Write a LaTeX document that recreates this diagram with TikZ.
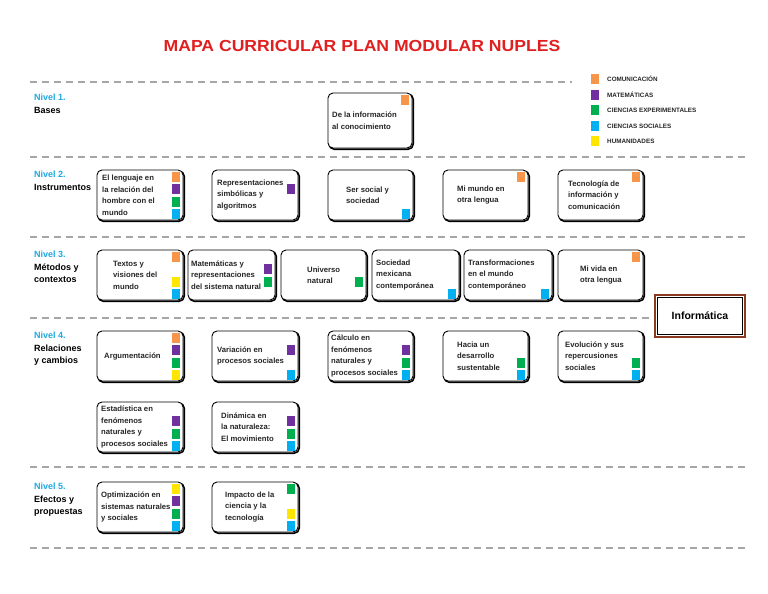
\documentclass[tikz,border=0pt]{standalone}
\usepackage{fontspec}
\setmainfont{Liberation Sans}
\definecolor{cO}{HTML}{F7954A}
\definecolor{cP}{HTML}{7030A0}
\definecolor{cG}{HTML}{00B050}
\definecolor{cB}{HTML}{00B0F0}
\definecolor{cY}{HTML}{FFE600}
\definecolor{tred}{HTML}{E02020}
\definecolor{nblue}{HTML}{1CA8E0}
\definecolor{ibrown}{HTML}{8A3A20}
\begin{document}
\begin{tikzpicture}[x=1pt,y=-1pt,
  dashln/.style={gray!70,line width=1.3pt,dash pattern=on 7pt off 5pt},
  box/.style={draw=black,line width=0.9pt,rounded corners=5pt,fill=white},
  shad/.style={draw=black,line width=1.6pt,rounded corners=5pt},
  txt/.style={anchor=west,align=left,font=\fontsize{7.7}{11.5}\selectfont\bfseries,text=black!85,inner sep=0pt},
  sq/.style={minimum width=8pt,minimum height=10pt,inner sep=0pt},
  niv/.style={anchor=north west,align=left,inner sep=0pt,font=\fontsize{9}{12.5}\selectfont\bfseries},
  leg/.style={anchor=west,inner sep=0pt,font=\fontsize{6.3}{7}\selectfont\bfseries,text=black!85}]
\useasboundingbox (0,0) rectangle (768,594);
\newcommand\bx[7]{%
  \draw[shad] (#2+1.2,#3+1.2) rectangle (#4+1.2,#5+1.2);
  \draw[box] (#2,#3) rectangle (#4,#5);
  \node[txt] (#1) at (#6,{(#3+#5)/2}) {#7};}
\newcommand\sqs[3]{%
  \foreach \s/\c in {#3} {\node[sq,fill=\c] at (#1-7,{#2+7+(\s-1)*12.3}) {};}}
% title
\node[text=tred,font=\fontsize{16}{16}\selectfont\bfseries,xscale=1.1] (title) at (362,46) {MAPA CURRICULAR PLAN MODULAR NUPLES};
% dashed lines
\foreach \y/\xe [count=\i] in {82/572,157/745,237/745,318/650,467/745,548/745}{
  \coordinate (dA\i) at (30,\y); \coordinate (dB\i) at (\xe,\y);
  \draw[dashln] (dA\i) -- (dB\i);}
% legend
\foreach \y/\c/\t [count=\k] in {79/cO/COMUNICACIÓN,95/cP/MATEMÁTICAS,110/cG/CIENCIAS EXPERIMENTALES,126/cB/CIENCIAS SOCIALES,141/cY/HUMANIDADES}{
  \node[sq,fill=\c] (lg\k) at (595,\y) {};
  \node[leg] (lt\k) at (607,\y) {\t};}
% levels
\node[niv] (n1) at (34,94) {\textcolor{nblue}{Nivel 1.}\\Bases};
\node[niv] (n2) at (34,171) {\textcolor{nblue}{Nivel 2.}\\Instrumentos};
\node[niv] (n3) at (34,251) {\textcolor{nblue}{Nivel 3.}\\Métodos y\\contextos};
\node[niv] (n4) at (34,332) {\textcolor{nblue}{Nivel 4.}\\Relaciones\\y cambios};
\node[niv] (n5) at (34,483) {\textcolor{nblue}{Nivel 5.}\\Efectos y\\propuestas};
% level 1
\bx{b11}{328}{93}{412}{148}{332}{De la información\\al conocimiento}\sqs{412}{93}{1/cO}
% level 2
\bx{b21}{97}{170}{183}{220}{102}{El lenguaje en\\la relación del\\hombre con el\\mundo}\sqs{183}{170}{1/cO,2/cP,3/cG,4/cB}
\bx{b22}{212}{170}{298}{220}{217}{Representaciones\\simbólicas y\\algoritmos}\sqs{298}{170}{2/cP}
\bx{b23}{328}{170}{413}{220}{346}{Ser social y\\sociedad}\sqs{413}{170}{4/cB}
\bx{b24}{443}{170}{528}{220}{457}{Mi mundo en\\otra lengua}\sqs{528}{170}{1/cO}
\bx{b25}{558}{170}{643}{220}{568}{Tecnología de\\información y\\comunicación}\sqs{643}{170}{1/cO}
% level 3
\bx{b31}{97}{250}{183}{300}{113}{Textos y\\visiones del\\mundo}\sqs{183}{250}{1/cO,3/cY,4/cB}
\bx{b32}{188}{250}{275}{300}{191}{Matemáticas y\\representaciones\\del sistema natural}\sqs{275}{250}{2/cP,3/cG}
\bx{b33}{281}{250}{366}{300}{307}{Universo\\natural}\sqs{366}{250}{3/cG}
\bx{b34}{372}{250}{459}{300}{376}{Sociedad\\mexicana\\contemporánea}\sqs{459}{250}{4/cB}
\bx{b35}{464}{250}{552}{300}{468}{Transformaciones\\en el mundo\\contemporáneo}\sqs{552}{250}{4/cB}
\bx{b36}{558}{250}{643}{300}{580}{Mi vida en\\otra lengua}\sqs{643}{250}{1/cO}
% Informatica
\draw[draw=ibrown,line width=1.6pt] (655,295) rectangle (745,337);
\draw[draw=black,line width=0.6pt] (657.5,297.5) rectangle (742.5,334.5);
\node[font=\fontsize{10.5}{12}\selectfont\bfseries] (inf) at (700,316) {Informática};
% level 4
\bx{b41}{97}{331}{183}{381}{104}{Argumentación}\sqs{183}{331}{1/cO,2/cP,3/cG,4/cY}
\bx{b42}{212}{331}{298}{381}{217}{Variación en\\procesos sociales}\sqs{298}{331}{2/cP,4/cB}
\bx{b43}{328}{331}{413}{381}{331}{Cálculo en\\fenómenos\\naturales y\\procesos sociales}\sqs{413}{331}{2/cP,3/cG,4/cB}
\bx{b44}{443}{331}{528}{381}{457}{Hacia un\\desarrollo\\sustentable}\sqs{528}{331}{3/cG,4/cB}
\bx{b45}{558}{331}{643}{381}{565}{Evolución y sus\\repercusiones\\sociales}\sqs{643}{331}{3/cG,4/cB}
\bx{b46}{97}{402}{183}{452}{101}{Estadística en\\fenómenos\\naturales y\\procesos sociales}\sqs{183}{402}{2/cP,3/cG,4/cB}
\bx{b47}{212}{402}{298}{452}{221}{Dinámica en\\la naturaleza:\\El movimiento}\sqs{298}{402}{2/cP,3/cG,4/cB}
% level 5
\bx{b51}{97}{482}{183}{532}{101}{Optimización en\\sistemas naturales\\y sociales}\sqs{183}{482}{1/cY,2/cP,3/cG,4/cB}
\bx{b52}{212}{482}{298}{532}{225}{Impacto de la\\ciencia y la\\tecnología}\sqs{298}{482}{1/cG,3/cY,4/cB}
\end{tikzpicture}
\end{document}
